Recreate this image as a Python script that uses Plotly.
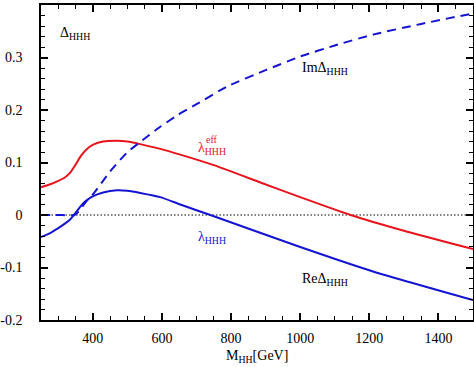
import plotly.graph_objects as go

# --- data ---
x_red = [250, 275, 300, 320, 335, 350, 365, 380, 401, 430, 470, 500, 537, 595, 653, 750, 885, 1000, 1146, 1300, 1500]
y_red = [0.053, 0.058, 0.065, 0.072, 0.081, 0.096, 0.112, 0.124, 0.134, 0.140, 0.1415, 0.140, 0.135, 0.126, 0.115, 0.095, 0.062, 0.034, 0.0, -0.030, -0.065]

x_blue = [250, 275, 300, 320, 335, 350, 365, 380, 401, 430, 470, 500, 537, 595, 653, 740, 1000, 1213, 1500]
y_blue = [-0.042, -0.035, -0.025, -0.016, -0.008, 0.004, 0.017, 0.027, 0.036, 0.043, 0.047, 0.046, 0.042, 0.034, 0.020, 0.0, -0.061, -0.108, -0.162]

x_im = [250, 300, 346, 355, 365, 380, 401, 450, 499, 537, 595, 647, 700, 789, 900, 1001, 1100, 1213, 1350, 1500]
y_im = [0.0, 0.0, 0.0, 0.004, 0.012, 0.025, 0.040, 0.083, 0.119, 0.139, 0.168, 0.191, 0.211, 0.245, 0.276, 0.302, 0.323, 0.344, 0.364, 0.384]

x_ticks = [400, 600, 800, 1000, 1200, 1400]
y_ticks = [-0.2, -0.1, 0, 0.1, 0.2, 0.3, 0.4]
y_ticktext = ["-0.2", "-0.1", "0", "0.1", "0.2", "0.3", "0.4"]

RED = "#e8141c"
BLUE = "#1414d2"
FONT = "Liberation Serif"

fig = go.Figure()
fig.add_trace(go.Scatter(x=[250, 1500], y=[0, 0], mode="lines",
                         line=dict(color="black", width=1, dash="1.5px,2px"), hoverinfo="skip"))
fig.add_trace(go.Scatter(x=x_red, y=y_red, mode="lines", line=dict(color=RED, width=2, shape="spline", smoothing=0.5)))
fig.add_trace(go.Scatter(x=x_blue, y=y_blue, mode="lines", line=dict(color=BLUE, width=2, shape="spline", smoothing=0.5)))
fig.add_trace(go.Scatter(x=x_im, y=y_im, mode="lines", line=dict(color=BLUE, width=2, dash="9px,6px", shape="spline", smoothing=0.5)))

ann_font = dict(family=FONT, size=14, color="black")
annotations = [
    dict(x=299, y=0.345, text="\u0394<sub>HHH</sub>", font=ann_font),
    dict(x=999, y=0.28, text="Im\u0394<sub>HHH</sub>", font=ann_font),
    dict(x=999, y=-0.122, text="Re\u0394<sub>HHH</sub>", font=ann_font),
    dict(x=698, y=0.126, text="\u03bb<sub>HHH</sub>", font=dict(family=FONT, size=14, color=RED)),
    dict(x=723, y=0.143, text="eff", font=dict(family=FONT, size=10, color=RED)),
    dict(x=698, y=-0.042, text="\u03bb<sub>HHH</sub>", font=dict(family=FONT, size=14, color=BLUE)),
]
for a in annotations:
    a.update(xref="x", yref="y", showarrow=False, xanchor="left", yanchor="middle")
    fig.add_annotation(**a)

fig.add_annotation(xref="paper", yref="paper", x=0.5, y=-0.117, text="M<sub>HH</sub>[GeV]",
                   showarrow=False, xanchor="center", yanchor="middle",
                   font=dict(family=FONT, size=14, color="black"))

axis_common = dict(showline=True, linecolor="black", linewidth=1.5, mirror="allticks",
                   ticks="inside", ticklen=7, tickwidth=1.5, tickcolor="black",
                   showgrid=False, zeroline=False, automargin=False,
                   tickfont=dict(family=FONT, size=14, color="black"))

fig.update_xaxes(range=[250, 1500], tickvals=x_ticks,
                 minor=dict(ticks="inside", dtick=50, tick0=0, ticklen=4, tickwidth=1, tickcolor="black", showgrid=False),
                 ticklabelstandoff=4, **axis_common)
fig.update_yaxes(range=[-0.2, 0.4], tickvals=y_ticks, ticktext=y_ticktext,
                 minor=dict(ticks="inside", dtick=0.02, tick0=0, ticklen=4, tickwidth=1, tickcolor="black", showgrid=False),
                 ticklabelstandoff=14, **axis_common)

fig.update_layout(width=474, height=367, margin=dict(l=41, r=1, t=5, b=47, autoexpand=False),
                  paper_bgcolor="white", plot_bgcolor="white", showlegend=False,
                  font=dict(family=FONT))

fig.write_html("out.html", config={"displayModeBar": False},
               post_script="document.body.style.margin='0';document.body.style.overflow='hidden';")
